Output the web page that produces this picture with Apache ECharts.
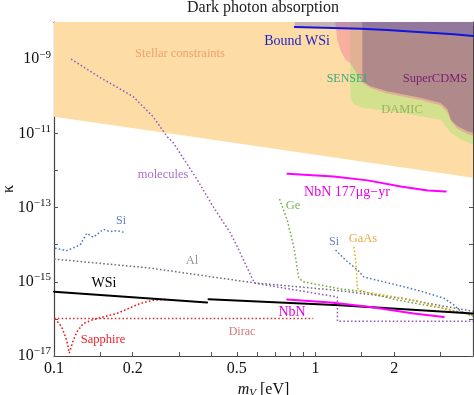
<!DOCTYPE html>
<html><head><meta charset="utf-8">
<script src="https://cdn.jsdelivr.net/npm/echarts@6/dist/echarts.min.js"></script>
<style>html,body{margin:0;padding:0;background:#fff}#c{width:474px;height:395px}</style>
</head><body><div id="c"></div>
<script>
// ---- axis ranges and ticks ----
const X_MIN = 0.1, X_MAX = 4, Y_MIN = 1e-17, Y_MAX = 1e-8;
const xLabelTicks = [0.1, 0.2, 0.5, 1, 2];
const xAllTicks = [0.1, 0.15, 0.2, 0.3, 0.4, 0.5, 0.6, 0.7, 0.8, 0.9, 1, 1.5, 2, 3, 4];
const yLabelTicks = [1e-17, 1e-15, 1e-13, 1e-11, 1e-9];
const yAllTicks = [1e-17, 1e-16, 1e-15, 1e-14, 1e-13, 1e-12, 1e-11, 1e-10, 1e-9, 1e-8];

// ---- shaded regions [m_V (eV), kappa] ----
const stellarRegion = [[0.1,1e-8],[0.1,2.8e-11],[0.3,9.2e-12],[1,2.65e-12],[4,6.4e-13],[4,1e-8]];
const damicRegion = [[1.36,1e-8],[1.36,9.1e-11],[1.40,6.0e-11],[1.53,4.85e-11],[2.17,3.55e-11],[2.52,2.9e-11],[3.01,2.34e-11],[3.29,1.04e-11],[3.59,6.8e-12],[4,5.0e-12],[4,1e-8]];
const senseiRegion = [[1.19,1e-8],[1.21,3.4e-9],[1.25,1.64e-9],[1.30,9.8e-10],[1.36,7.7e-10],[1.44,4.1e-10],[1.51,2.34e-10],[1.62,1.67e-10],[1.88,1.18e-10],[2.52,7.9e-11],[3.01,5.6e-11],[3.20,3.6e-11],[3.32,1.95e-11],[3.50,1.3e-11],[3.82,9.5e-12],[4,8.7e-12],[4,1e-8]];
const superCdmsRegion = [[1.51,1e-8],[1.51,2.54e-10],[1.62,1.86e-10],[1.88,1.36e-10],[2.52,9.1e-11],[3.01,6.6e-11],[3.20,4.4e-11],[3.29,2.34e-11],[3.49,1.55e-11],[3.81,1.13e-11],[4,1.04e-11],[4,1e-8]];

// ---- curves ----
const boundWsi = [[0.833,7.3e-9],[1.49,6.6e-9],[1.88,6.1e-9],[2.46,5.4e-9],[3.38,4.7e-9],[4,4.2e-9]];
const nbn177 = [[0.781,8.15e-13],[1.172,6.9e-13],[1.582,5.4e-13],[2.117,3.7e-13],[2.686,2.9e-13],[3.148,2.7e-13]];
const nbn = [[0.779,3.34e-16],[1.142,2.77e-16],[1.624,2.1e-16],[2.374,1.4e-16],[3.093,1.13e-16]];
const wsiA = [[0.1,5.4e-16],[0.385,2.77e-16]];
const wsiB = [[0.39,3.4e-16],[1.24,2.34e-16],[4,1.4e-16]];
const molecules = [[0.1162,1e-9],[0.150,3.2e-10],[0.2007,9.8e-11],[0.2395,2.8e-11],[0.271,8.1e-12],[0.2857,5.6e-12],[0.3531,5.6e-13],[0.4067,1.04e-13],[0.4724,2.07e-14],[0.5024,8.7e-15],[0.5393,3.0e-15],[0.584,9.2e-16],[1.211,3.9e-16],[1.213,8.7e-17],[4,8.7e-17]];
const alCurve = [[0.1,4.1e-15],[0.2333,2.34e-15],[0.5788,9.4e-16],[1.172,6.0e-16],[2.117,3.6e-16],[3.093,2.2e-16],[4,1.6e-16]];
const siLow = [[0.1009,8.0e-15],[0.1118,6.9e-15],[0.1258,9.8e-15],[0.1335,2.03e-14],[0.1414,1.58e-14],[0.1545,2.6e-14],[0.1639,2.24e-14],[0.1739,2.4e-14],[0.1843,2.16e-14]];
const geCurve = [[0.7286,1.69e-13],[0.779,4.66e-14],[0.8259,8.8e-15],[0.863,1.24e-15],[0.8995,1.0e-15],[1.247,6.4e-16],[1.527,5.4e-16],[2.062,3.2e-16],[3.093,1.91e-16],[4,1.26e-16]];
const siHigh = [[1.193,7.2e-15],[1.302,3.85e-15],[1.449,2.07e-15],[1.527,1.36e-15],[1.774,1.04e-15],[2.062,8.1e-16],[2.525,5.6e-16],[3.093,3.6e-16],[3.349,2.5e-16],[3.594,1.6e-16],[4,1.18e-16]];
const gaasCurve = [[1.402,8.8e-15],[1.423,3.85e-15],[1.436,1.52e-15],[1.445,6.6e-16],[1.527,5.4e-16],[2.374,3.2e-16],[2.934,2.1e-16],[3.29,1.72e-16],[4,1.26e-16]];
const sapphire = [[0.1009,1.03e-16],[0.107,6.1e-17],[0.1118,2.65e-17],[0.1144,1.2e-17],[0.1179,2.4e-17],[0.1222,4.45e-17],[0.1295,7.5e-17],[0.1414,9.6e-17],[0.1739,1.4e-16],[0.2136,2.6e-16],[0.2402,3.2e-16],[0.2703,3.34e-16]];
const dirac = [[0.1,1.03e-16],[0.98,1.03e-16]];

const L = Math.log10;
const toXY = pts => pts.map(p => [L(p[0]), L(p[1])]);
const SERIF = '"Liberation Serif","DejaVu Serif",serif';

function region(name, pts, fill, z) {
  const d = toXY(pts);
  return {
    type: 'custom', name, z, silent: true, animation: false,
    data: [d[0]],
    renderItem: (params, api) => ({
      type: 'polygon',
      shape: { points: d.map(p => api.coord(p)) },
      style: { fill: fill }
    })
  };
}
function curve(name, pts, color, width, dotted, z) {
  return {
    type: 'line', name, data: toXY(pts), showSymbol: false, symbol: 'none',
    silent: true, animation: false, z: z || 5,
    lineStyle: { color, width, type: dotted ? [1.6, 2.2] : 'solid', cap: dotted ? 'butt' : 'round' }
  };
}

const chart = echarts.init(document.getElementById('c'), null, { renderer: 'canvas' });
const xFmt = v => String(Number(Math.pow(10, v).toPrecision(3)));
const yFmt = v => '{b|10}{e|\u2212' + Math.round(-v) + '}';
const frame = { show: true, onZero: false, lineStyle: { color: '#444', width: 1.2 } };

function xAxis(pos, labels) {
  return {
    type: 'value', min: L(X_MIN), max: L(X_MAX), position: pos,
    axisLine: frame, splitLine: { show: false },
    axisTick: { show: true, inside: true, length: 4, customValues: xAllTicks.map(L), lineStyle: { color: '#555' } },
    axisLabel: labels ? { show: true, customValues: xLabelTicks.map(L), formatter: xFmt, fontSize: 16, fontFamily: SERIF, color: '#111', margin: 5 } : { show: false },
    name: labels ? '{i|m}{s|V} [eV]' : '', nameLocation: 'middle', nameGap: 22,
    nameTextStyle: { fontSize: 16, fontFamily: SERIF, color: '#111',
      rich: { i: { fontSize: 16, fontStyle: 'italic', fontFamily: SERIF, color: '#111' },
              s: { fontSize: 11, fontStyle: 'italic', fontFamily: SERIF, color: '#111', verticalAlign: 'bottom', padding: [6, 0, 0, 0] } } }
  };
}
function yAxis(pos, labels) {
  return {
    type: 'value', min: L(Y_MIN), max: L(Y_MAX), position: pos,
    axisLine: frame, splitLine: { show: false },
    axisTick: { show: true, inside: true, length: 4, customValues: yAllTicks.map(L), lineStyle: { color: '#555' } },
    axisLabel: labels ? { show: true, customValues: yLabelTicks.map(L), formatter: yFmt, margin: 3,
      rich: { b: { fontSize: 16, fontFamily: SERIF, color: '#111', lineHeight: 20 },
              e: { fontSize: 11, fontFamily: SERIF, color: '#111', verticalAlign: 'top' } } } : { show: false },
    name: labels ? '\u03ba' : '', nameLocation: 'middle', nameRotate: 90, nameGap: 37, nameMoveOverlap: false,
    nameTextStyle: { fontSize: 16, fontFamily: SERIF, color: '#111' }
  };
}

function label(text, x, y, color, size, extra) {
  return Object.assign({
    type: 'text', x, y, silent: true, z: 100,
    style: { text, fill: color, font: size + 'px ' + SERIF, align: 'center', verticalAlign: 'middle', textAlign: 'center', textVerticalAlign: 'middle' }
  }, extra || {});
}

const boundFill = boundWsi.concat([[4, 1e-8], [0.833, 1e-8]]);

chart.setOption({
  animation: false,
  backgroundColor: '#fff',
  grid: { left: 54, right: 1, top: 22, bottom: 39, containLabel: false, outerBoundsMode: 'none' },
  xAxis: [xAxis('bottom', true), xAxis('top', false)],
  yAxis: [yAxis('left', true), yAxis('right', false)],
  graphic: [
    label('Dark photon absorption', 263, 8, '#222', 16),
    label('Stellar constraints', 180, 54, 'rgb(238,160,110)', 12.5),
    label('Bound WSi', 297, 41, 'rgb(30,30,200)', 14),
    label('SENSEI', 347, 79, 'rgb(60,170,120)', 12),
    label('SuperCDMS', 435, 79, 'rgb(120,30,110)', 12.5),
    label('DAMIC', 402, 110, 'rgb(150,180,95)', 12.5),
    label('molecules', 163, 175, 'rgb(170,110,210)', 12.5),
    label('NbN 177\u03bcg\u2212yr', 347, 192, 'rgb(230,0,230)', 14),
    label('Ge', 293, 206, 'rgb(120,180,80)', 12.5),
    label('Si', 121, 221, 'rgb(100,130,190)', 12),
    label('Si', 334, 242, 'rgb(100,130,190)', 12),
    label('GaAs', 363, 239, 'rgb(230,170,70)', 12.5),
    label('Al', 192, 261, 'rgb(150,150,150)', 12.5),
    label('WSi', 104, 283, '#000', 14),
    label('NbN', 292, 312, 'rgb(230,0,230)', 14),
    label('Dirac', 242, 332, 'rgb(210,120,120)', 12),
    label('Sapphire', 103, 340, 'rgb(230,30,40)', 12.5)
  ],
  series: [
    region('Stellar constraints', stellarRegion, 'rgb(253,221,165)', 1),
    region('DAMIC', damicRegion, 'rgba(170,228,120,0.5)', 2),
    region('SENSEI', senseiRegion, 'rgba(240,120,150,0.45)', 3),
    region('SuperCDMS', superCdmsRegion, 'rgba(110,80,130,0.42)', 4),
    region('Bound WSi fill', boundFill, 'rgba(80,80,200,0.3)', 4),
    curve('Bound WSi', boundWsi, 'rgb(20,20,220)', 2, false, 8),
    curve('NbN 177', nbn177, 'rgb(255,0,255)', 2, false, 8),
    curve('Al', alCurve, 'rgb(110,110,130)', 1.5, true, 6),
    curve('molecules', molecules, 'rgb(150,90,190)', 1.5, true, 6),
    curve('Si low', siLow, 'rgb(80,120,190)', 1.5, true, 6),
    curve('Ge', geCurve, 'rgb(110,175,60)', 1.5, true, 6),
    curve('Si high', siHigh, 'rgb(80,120,190)', 1.5, true, 6),
    curve('GaAs', gaasCurve, 'rgb(235,170,30)', 1.5, true, 6),
    curve('Dirac', dirac, 'rgb(200,60,60)', 1.5, true, 6),
    curve('Sapphire', sapphire, 'rgb(235,30,30)', 1.6, true, 6),
    curve('WSi a', wsiA, '#000', 2, false, 8),
    curve('WSi b', wsiB, '#000', 2, false, 8),
    curve('NbN', nbn, 'rgb(255,0,255)', 2, false, 9)
  ]
});
</script></body></html>
